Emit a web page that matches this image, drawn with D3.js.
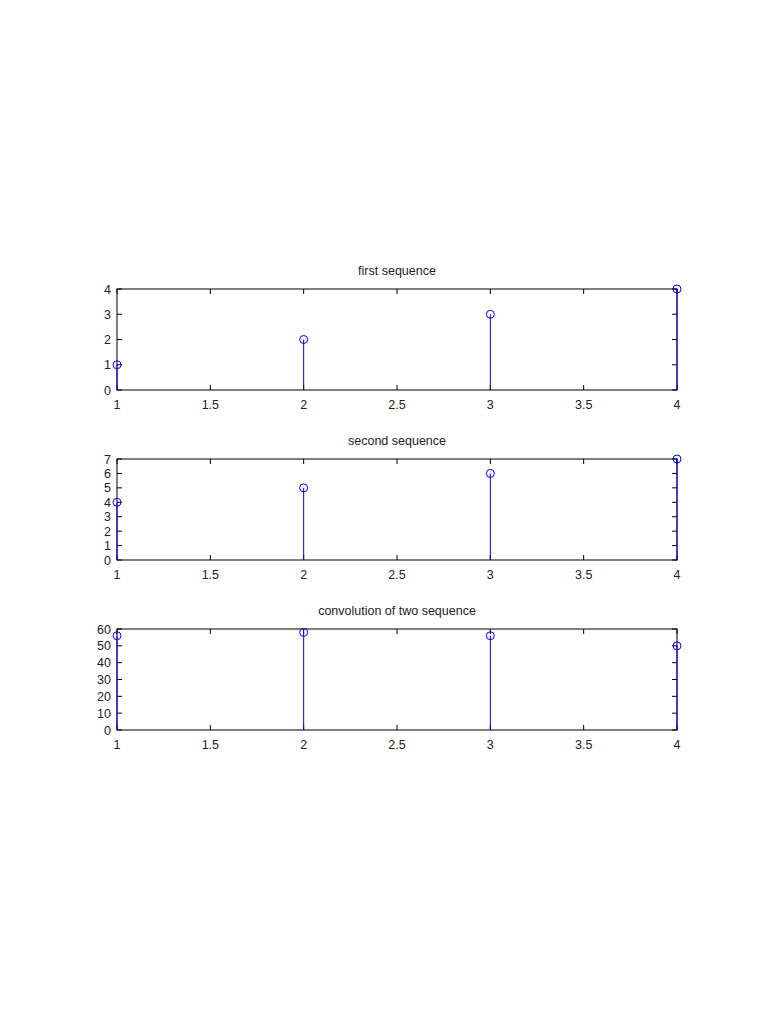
<!DOCTYPE html>
<html>
<head>
<meta charset="utf-8">
<script src="https://cdn.jsdelivr.net/npm/d3@7"></script>
<style>
  body { margin: 0; background: #fff; }
  text { font-family: "Liberation Sans", Arial, sans-serif; fill: #222; }
</style>
</head>
<body>
<div id="chart"></div>
<script>
var xs = [1, 2, 3, 4];
var firstSeq = [1, 2, 3, 4];
var secondSeq = [4, 5, 6, 7];
var convSeq = [56, 58, 56, 50];
var xTicks = [1, 1.5, 2, 2.5, 3, 3.5, 4];
var titles = ["first sequence", "second sequence", "convolution of two sequence"];
var yTicks1 = [0, 1, 2, 3, 4];
var yTicks2 = [0, 1, 2, 3, 4, 5, 6, 7];
var yTicks3 = [0, 10, 20, 30, 40, 50, 60];

var width = 768, height = 1024;
var svg = d3.select("#chart").append("svg").attr("width", width).attr("height", height);

var panels = [
  { title: titles[0], vals: firstSeq, yMax: 4, yTicks: yTicks1, top: 289, bottom: 390 },
  { title: titles[1], vals: secondSeq, yMax: 7, yTicks: yTicks2, top: 459, bottom: 560 },
  { title: titles[2], vals: convSeq, yMax: 60, yTicks: yTicks3, top: 629, bottom: 730 }
];

var left = 117, right = 677;

panels.forEach(function (p) {
  var x = d3.scaleLinear().domain([1, 4]).range([left, right]);
  var y = d3.scaleLinear().domain([0, p.yMax]).range([p.bottom, p.top]);
  var g = svg.append("g");

  // title
  g.append("text")
    .attr("x", (left + right) / 2)
    .attr("y", p.top - 14)
    .attr("text-anchor", "middle")
    .style("font-size", "12.5px")
    .text(p.title);

  // inward ticks on all four sides
  var tl = 5;
  g.selectAll(".xt").data(xTicks).enter().append("line")
    .attr("x1", function (d) { return x(d); }).attr("x2", function (d) { return x(d); })
    .attr("y1", p.bottom).attr("y2", p.bottom - tl)
    .attr("stroke", "#000");
  g.selectAll(".xt2").data(xTicks).enter().append("line")
    .attr("x1", function (d) { return x(d); }).attr("x2", function (d) { return x(d); })
    .attr("y1", p.top).attr("y2", p.top + tl)
    .attr("stroke", "#000");
  g.selectAll(".yt").data(p.yTicks).enter().append("line")
    .attr("x1", left).attr("x2", left + tl)
    .attr("y1", function (d) { return y(d); }).attr("y2", function (d) { return y(d); })
    .attr("stroke", "#000");
  g.selectAll(".yt2").data(p.yTicks).enter().append("line")
    .attr("x1", right).attr("x2", right - tl)
    .attr("y1", function (d) { return y(d); }).attr("y2", function (d) { return y(d); })
    .attr("stroke", "#000");

  // tick labels
  g.selectAll(".xl").data(xTicks).enter().append("text")
    .attr("x", function (d) { return x(d); })
    .attr("y", p.bottom + 19)
    .attr("text-anchor", "middle")
    .style("font-size", "12.5px")
    .text(function (d) { return d; });
  g.selectAll(".yl").data(p.yTicks).enter().append("text")
    .attr("x", left - 6)
    .attr("y", function (d) { return y(d) + 4.5; })
    .attr("text-anchor", "end")
    .style("font-size", "12.5px")
    .text(function (d) { return d; });

  // box
  g.append("rect")
    .attr("x", left).attr("y", p.top)
    .attr("width", right - left).attr("height", p.bottom - p.top)
    .attr("fill", "none").attr("stroke", "#000").attr("stroke-width", 1);

  // stems
  var pts = xs.map(function (v, i) { return { x: v, y: p.vals[i] }; });
  g.selectAll(".stem").data(pts).enter().append("line")
    .attr("x1", function (d) { return x(d.x); }).attr("x2", function (d) { return x(d.x); })
    .attr("y1", y(0)).attr("y2", function (d) { return y(d.y); })
    .attr("stroke", "#0000ff").attr("stroke-width", 1);
  g.selectAll(".mk").data(pts).enter().append("circle")
    .attr("cx", function (d) { return x(d.x); })
    .attr("cy", function (d) { return y(d.y); })
    .attr("r", 4)
    .attr("fill", "none").attr("stroke", "#0000ff").attr("stroke-width", 1);
});
</script>
</body>
</html>
